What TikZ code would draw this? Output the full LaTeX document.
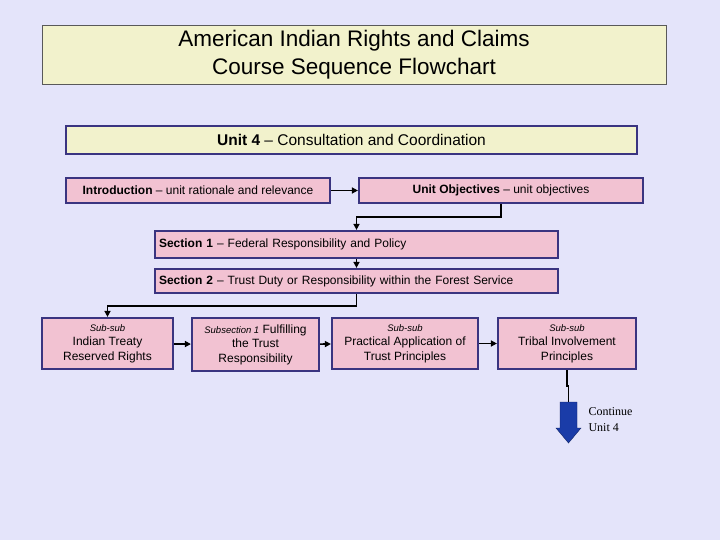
\documentclass[tikz,border=0pt]{standalone}
\usepackage{fontspec}
\setmainfont{Liberation Sans}
\newfontfamily\serifx{Liberation Serif}
\usetikzlibrary{arrows.meta}
\definecolor{bg}{HTML}{E4E4FA}
\definecolor{ylw}{HTML}{F2F2CC}
\definecolor{pnk}{HTML}{F2C2D2}
\definecolor{nvy}{HTML}{3A3480}
\definecolor{blu}{HTML}{1A3CA8}
\begin{document}
\begin{tikzpicture}[x=1pt,y=-1pt,
 box/.style={draw=nvy,line width=2.2pt,fill=pnk,inner sep=0pt},
 con/.style={line width=1.6pt,-{Triangle[length=6pt,width=6pt]}},
 txt/.style={font=\fontsize{12}{14.5}\selectfont,align=center}]
\fill[bg] (0,0) rectangle (720,540);
\useasboundingbox (0,0) rectangle (720,540);
\node[draw=gray!70!black,line width=0.6pt,fill=ylw,minimum width=624pt,minimum height=59pt,align=center,font=\fontsize{22.5}{28}\selectfont] (title) at (354,54.5) {American Indian Rights and Claims\\Course Sequence Flowchart};
\node[box,fill=ylw,minimum width=571pt,minimum height=28pt,font=\fontsize{15.5}{18}\selectfont] (unit) at (351.5,140) {\textbf{Unit 4} -- Consultation and Coordination};
\node[box,minimum width=264pt,minimum height=25pt,font=\fontsize{12}{14}\selectfont] (intro) at (198,190.5) {\textbf{Introduction} -- unit rationale and relevance};
\node[box,minimum width=284pt,minimum height=25pt,font=\fontsize{12}{14}\selectfont] (obj) at (501,190.5) {\textbf{Unit Objectives} -- unit objectives};
\node[box,minimum width=403pt,minimum height=27pt,font=\fontsize{12}{14}\selectfont,text width=395pt,align=left] (s1) at (356.5,244.5) {\textbf{Section 1} -- Federal Responsibility and Policy};
\node[box,minimum width=403pt,minimum height=24pt,font=\fontsize{12}{14}\selectfont,text width=395pt,align=left] (s2) at (356.5,281) {\textbf{Section 2} -- Trust Duty or Responsibility within the Forest Service};
\node[box,txt,minimum width=131pt,minimum height=51pt] (a) at (107.5,343.5) {{\fontsize{9.5}{11}\selectfont\itshape Sub-sub}\\Indian Treaty\\Reserved Rights};
\node[box,txt,minimum width=127pt,minimum height=53pt] (b) at (255.5,344.5) {{\fontsize{9.5}{11}\selectfont\itshape Subsection 1} Fulfilling\\the Trust\\Responsibility};
\node[box,txt,minimum width=146pt,minimum height=51pt] (c) at (405,343.5) {{\fontsize{9.5}{11}\selectfont\itshape Sub-sub}\\Practical Application of\\Trust Principles};
\node[box,txt,minimum width=138pt,minimum height=51pt] (d) at (567,343.5) {{\fontsize{9.5}{11}\selectfont\itshape Sub-sub}\\Tribal Involvement\\Principles};
\draw[con] (intro) -- (obj);
\draw[con] (obj.south) -- ++(0,13) -| (s1.north);
\draw[con] (s1) -- (s2);
\draw[con] (s2.south) -- ++(0,12) -| (a.north);
\draw[con] (a) -- (b);
\draw[con] (b) -- (c);
\draw[con] (c) -- (d);
\coordinate (ar) at (568.5,402);
\draw[con] (d.south) -- ++(0,16) -- ++(1.5,0) |- (ar);
\fill[blu,draw=blu!60!black] (560,402) -- (577,402) -- (577,428) -- (581,428) -- (568.5,443) -- (556,428) -- (560,428) -- cycle;
\node[anchor=west,align=left,font=\serifx\fontsize{12}{16}\selectfont] (cont) at (585,420) {Continue\\Unit 4};
\end{tikzpicture}
\end{document}
